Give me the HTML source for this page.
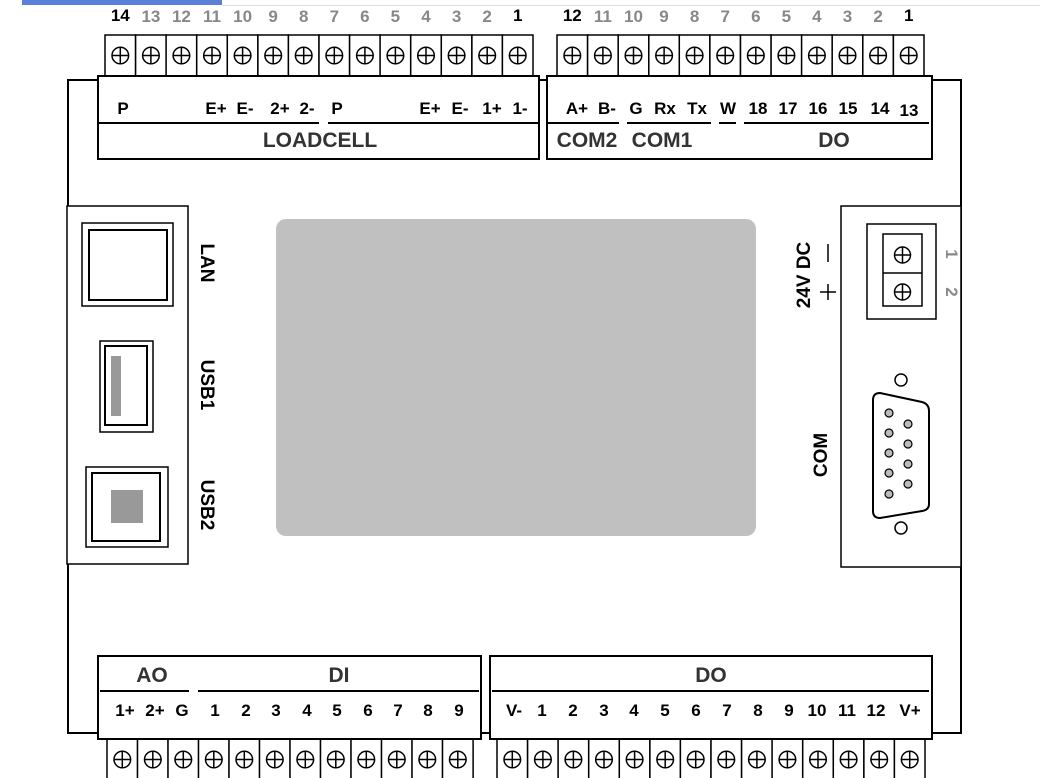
<!DOCTYPE html>
<html><head><meta charset="utf-8"><style>
html,body{margin:0;padding:0;background:#fff;}
svg{display:block;}
text{font-family:"Liberation Sans",Arial,sans-serif;font-weight:bold;}
</style></head><body>
<svg width="1040" height="778" viewBox="0 0 1040 778" xmlns="http://www.w3.org/2000/svg">
<defs>
<g id="t">
<rect x="0" y="0" width="30.6" height="41" fill="#fff" stroke="#000" stroke-width="1.5"/>
<circle cx="15.3" cy="20.5" r="8.3" fill="none" stroke="#000" stroke-width="1.5"/>
<line x1="7" y1="20.5" x2="23.6" y2="20.5" stroke="#000" stroke-width="1.5"/>
<line x1="15.3" y1="12.2" x2="15.3" y2="28.8" stroke="#000" stroke-width="1.5"/>
</g>
</defs>
<rect x="22" y="0" width="200" height="5" fill="#5a7fd8"/>
<line x1="222" y1="5.5" x2="1040" y2="5.5" stroke="#ddd" stroke-width="1"/>

<g stroke="#000" stroke-width="2" fill="none">
<polyline points="98,80 68,80 68,733 98,733"/>
<line x1="539" y1="80" x2="547" y2="80"/>
<polyline points="932,80 961,80 961,733 932,733"/>
<line x1="481" y1="733" x2="490" y2="733"/>
</g>

<g>
<use href="#t" x="105" y="35"/><use href="#t" x="135.6" y="35"/><use href="#t" x="166.1" y="35"/><use href="#t" x="196.7" y="35"/><use href="#t" x="227.3" y="35"/><use href="#t" x="257.9" y="35"/><use href="#t" x="288.4" y="35"/><use href="#t" x="319" y="35"/><use href="#t" x="349.6" y="35"/><use href="#t" x="380.1" y="35"/><use href="#t" x="410.7" y="35"/><use href="#t" x="441.3" y="35"/><use href="#t" x="471.9" y="35"/><use href="#t" x="502.4" y="35"/>
</g>
<g font-size="17" fill="#888" text-anchor="middle">
<text x="120.3" y="21" fill="#000">14</text><text x="150.9" y="22">13</text><text x="181.4" y="22">12</text><text x="212" y="22">11</text><text x="242.6" y="22">10</text><text x="273.1" y="22">9</text><text x="303.7" y="22">8</text><text x="334.3" y="22">7</text><text x="364.9" y="22">6</text><text x="395.4" y="22">5</text><text x="426" y="22">4</text><text x="456.6" y="22">3</text><text x="487.1" y="22">2</text><text x="517.7" y="21" fill="#000">1</text>
</g>
<rect x="98" y="76" width="441" height="83" fill="#fff" stroke="#000" stroke-width="2"/>
<line x1="98" y1="123" x2="319" y2="123" stroke="#000" stroke-width="2"/>
<line x1="328" y1="123" x2="539" y2="123" stroke="#000" stroke-width="2"/>
<g font-size="17" fill="#000" text-anchor="middle">
<text x="123" y="114">P</text><text x="216" y="114">E+</text><text x="245" y="114">E-</text><text x="280" y="114">2+</text><text x="307" y="114">2-</text><text x="337" y="114">P</text><text x="430" y="114">E+</text><text x="460" y="114">E-</text><text x="492" y="114">1+</text><text x="520" y="114">1-</text>
</g>
<text x="320" y="147" font-size="21" fill="#333" text-anchor="middle">LOADCELL</text>

<g>
<use href="#t" x="557" y="35"/><use href="#t" x="587.6" y="35"/><use href="#t" x="618.2" y="35"/><use href="#t" x="648.8" y="35"/><use href="#t" x="679.3" y="35"/><use href="#t" x="709.9" y="35"/><use href="#t" x="740.5" y="35"/><use href="#t" x="771.1" y="35"/><use href="#t" x="801.6" y="35"/><use href="#t" x="832.2" y="35"/><use href="#t" x="862.8" y="35"/><use href="#t" x="893.4" y="35"/>
</g>
<g font-size="17" fill="#888" text-anchor="middle">
<text x="572.3" y="21" fill="#000">12</text><text x="602.9" y="22">11</text><text x="633.5" y="22">10</text><text x="664" y="22">9</text><text x="694.6" y="22">8</text><text x="725.2" y="22">7</text><text x="755.8" y="22">6</text><text x="786.3" y="22">5</text><text x="816.9" y="22">4</text><text x="847.5" y="22">3</text><text x="878.1" y="22">2</text><text x="908.7" y="21" fill="#000">1</text>
</g>
<rect x="547" y="76" width="385" height="83" fill="#fff" stroke="#000" stroke-width="2"/>
<g stroke="#000" stroke-width="2">
<line x1="547" y1="123" x2="619" y2="123"/><line x1="627" y1="123" x2="711" y2="123"/><line x1="719" y1="123" x2="736" y2="123"/><line x1="744" y1="123" x2="929" y2="123"/>
</g>
<g font-size="17" fill="#000" text-anchor="middle">
<text x="577" y="114">A+</text><text x="607" y="114">B-</text><text x="636" y="114">G</text><text x="665" y="114">Rx</text><text x="697" y="114">Tx</text><text x="728" y="114">W</text><text x="758" y="114">18</text><text x="788" y="114">17</text><text x="818" y="114">16</text><text x="848" y="114">15</text><text x="880" y="114">14</text><text x="909" y="116">13</text>
</g>
<g font-size="21" fill="#333" text-anchor="middle">
<text x="587" y="147">COM2</text><text x="662" y="147">COM1</text><text x="834" y="147">DO</text>
</g>

<rect x="67" y="206" width="121" height="358" fill="#fff" stroke="#000" stroke-width="1.5"/>
<rect x="82" y="223" width="91" height="83" fill="none" stroke="#000" stroke-width="1.5"/>
<rect x="89" y="230" width="78" height="70" fill="none" stroke="#000" stroke-width="2"/>
<rect x="100" y="341" width="53" height="91" fill="none" stroke="#000" stroke-width="1.5"/>
<rect x="105" y="346" width="42" height="79" fill="none" stroke="#000" stroke-width="2"/>
<rect x="111" y="356" width="10" height="60" fill="#999"/>
<rect x="86" y="467" width="82" height="80" fill="none" stroke="#000" stroke-width="1.5"/>
<rect x="92" y="473" width="68" height="68" fill="none" stroke="#000" stroke-width="2"/>
<rect x="111" y="490" width="32" height="33" fill="#999"/>
<g font-size="19" fill="#000" text-anchor="middle">
<text transform="translate(201,263) rotate(90)">LAN</text>
<text transform="translate(201,385) rotate(90)">USB1</text>
<text transform="translate(201,505) rotate(90)">USB2</text>
</g>

<rect x="276" y="219" width="480" height="317" rx="10" fill="#c0c0c0"/>

<rect x="841" y="206" width="120" height="361" fill="#fff" stroke="#000" stroke-width="1.5"/>
<rect x="867" y="224" width="69" height="95" fill="none" stroke="#000" stroke-width="1.5"/>
<rect x="883" y="234" width="39" height="72" fill="none" stroke="#000" stroke-width="1.5"/>
<line x1="883" y1="273" x2="922" y2="273" stroke="#000" stroke-width="1.5"/>
<g stroke="#000" stroke-width="1.5" fill="none">
<circle cx="902.5" cy="255" r="8"/><line x1="894.5" y1="255" x2="910.5" y2="255"/><line x1="902.5" y1="247" x2="902.5" y2="263"/>
<circle cx="902.5" cy="292" r="8"/><line x1="894.5" y1="292" x2="910.5" y2="292"/><line x1="902.5" y1="284" x2="902.5" y2="300"/>
</g>
<g font-size="17" fill="#888" text-anchor="middle">
<text transform="translate(946,254) rotate(90)">1</text>
<text transform="translate(946,292) rotate(90)">2</text>
</g>
<text transform="translate(810,275) rotate(-90)" font-size="19" fill="#000" text-anchor="middle">24V DC</text>
<g stroke="#000" stroke-width="1.5">
<line x1="828" y1="244" x2="828" y2="262"/>
<line x1="820" y1="292" x2="836" y2="292"/><line x1="828" y1="284" x2="828" y2="300"/>
</g>
<text transform="translate(827,455) rotate(-90)" font-size="19" fill="#000" text-anchor="middle">COM</text>
<circle cx="901" cy="380" r="6" fill="none" stroke="#000" stroke-width="1.5"/>
<circle cx="901" cy="528" r="6" fill="none" stroke="#000" stroke-width="1.5"/>
<path d="M880,393 L922,402 Q929,404 929,411 L929,504 Q929,510 922,511 L880,518 Q873,518 873,511 L873,400 Q873,393 880,393 Z" fill="none" stroke="#000" stroke-width="2"/>
<g fill="#bbb" stroke="#000" stroke-width="1.2">
<circle cx="889" cy="413" r="4"/><circle cx="889" cy="433" r="4"/><circle cx="889" cy="453" r="4"/><circle cx="889" cy="473" r="4"/><circle cx="889" cy="494" r="4"/>
<circle cx="908" cy="424" r="4"/><circle cx="908" cy="444" r="4"/><circle cx="908" cy="464" r="4"/><circle cx="908" cy="484" r="4"/>
</g>

<g>
<use href="#t" x="107" y="739"/><use href="#t" x="137.5" y="739"/><use href="#t" x="168" y="739"/><use href="#t" x="198.5" y="739"/><use href="#t" x="229" y="739"/><use href="#t" x="259.5" y="739"/><use href="#t" x="290" y="739"/><use href="#t" x="320.5" y="739"/><use href="#t" x="351" y="739"/><use href="#t" x="381.5" y="739"/><use href="#t" x="412" y="739"/><use href="#t" x="442.5" y="739"/>
</g>
<rect x="98" y="656" width="383" height="83" fill="#fff" stroke="#000" stroke-width="2"/>
<line x1="100" y1="691" x2="189" y2="691" stroke="#000" stroke-width="2"/>
<line x1="198" y1="691" x2="479" y2="691" stroke="#000" stroke-width="2"/>
<g font-size="21" fill="#333" text-anchor="middle">
<text x="152" y="682">AO</text><text x="339" y="682">DI</text>
</g>
<g font-size="17" fill="#000" text-anchor="middle">
<text x="125" y="716">1+</text><text x="155" y="716">2+</text><text x="182" y="716">G</text><text x="215" y="716">1</text><text x="246" y="716">2</text><text x="276" y="716">3</text><text x="307" y="716">4</text><text x="337" y="716">5</text><text x="368" y="716">6</text><text x="398" y="716">7</text><text x="428" y="716">8</text><text x="459" y="716">9</text>
</g>

<g>
<use href="#t" x="497" y="739"/><use href="#t" x="527.6" y="739"/><use href="#t" x="558.1" y="739"/><use href="#t" x="588.7" y="739"/><use href="#t" x="619.3" y="739"/><use href="#t" x="649.9" y="739"/><use href="#t" x="680.4" y="739"/><use href="#t" x="711" y="739"/><use href="#t" x="741.6" y="739"/><use href="#t" x="772.1" y="739"/><use href="#t" x="802.7" y="739"/><use href="#t" x="833.3" y="739"/><use href="#t" x="863.9" y="739"/><use href="#t" x="894.4" y="739"/>
</g>
<rect x="490" y="656" width="442" height="83" fill="#fff" stroke="#000" stroke-width="2"/>
<line x1="492" y1="691" x2="929" y2="691" stroke="#000" stroke-width="2"/>
<text x="711" y="682" font-size="21" fill="#333" text-anchor="middle">DO</text>
<g font-size="17" fill="#000" text-anchor="middle">
<text x="514" y="716">V-</text><text x="542" y="716">1</text><text x="573" y="716">2</text><text x="604" y="716">3</text><text x="634" y="716">4</text><text x="665" y="716">5</text><text x="696" y="716">6</text><text x="727" y="716">7</text><text x="758" y="716">8</text><text x="789" y="716">9</text><text x="817" y="716">10</text><text x="847" y="716">11</text><text x="876" y="716">12</text><text x="910" y="716">V+</text>
</g>
</svg>
</body></html>
